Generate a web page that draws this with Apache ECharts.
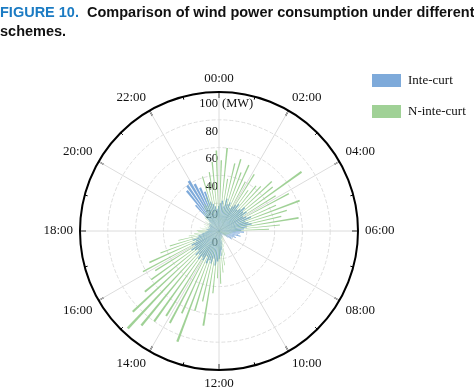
<!DOCTYPE html>
<html>
<head>
<meta charset="utf-8">
<script src="https://cdn.jsdelivr.net/npm/echarts@6/dist/echarts.min.js"></script>
<style>
html,body{margin:0;padding:0;background:#fff;}
#chart{width:474px;height:387px;}
</style>
</head>
<body>
<div id="chart"></div>
<script>
// 96 quarter-hour bins over one day
var timeBins = [];
for (var h = 0; h < 24; h++) {
  for (var q = 0; q < 4; q++) {
    timeBins.push((h < 10 ? '0' : '') + h + ':' + (q === 0 ? '00' : String(q * 15)));
  }
}
var hourTickLabels = ['00:00','02:00','04:00','06:00','08:00','10:00','12:00','14:00','16:00','18:00','20:00','22:00'];
var radiusTickLabels = ['0','20','40','60','80','100'];
var radiusUnit = '(MW)';
var seriesNames = ['Inte-curt', 'N-inte-curt'];

// Inte-curt (blue)
var inteCurt = [
  20,22,18,24, 20,22,18,20, 22,24,20,22, 25,22,24,20,
  22,25,20,22, 24,20,18,16, 18,15,14,16, 12,13,11,10,
  11,8,5,4, 3,4,3,5, 4,5,6,5, 10,14,18,20,
  22,25,20,24, 22,25,20,24, 22,25,22,24, 20,22,24,20,
  22,18,20,16, 15,12,10,9, 8,9,8,7, 8,7,8,7,
  8,9,8,10, 25,37,40,42, 38,34,30,22, 20,18,16,18
];
// N-inte-curt (green)
var nInteCurt = [
  51,60,38,50, 54,45,52,40, 48,36,42,44, 52,50,73,48,
  57,45,62,51, 46,58,44,36, 12,10,9,8, 8,7,6,6,
  5,7,4,6, 5,3,6,4, 7,10,8,12, 18,25,30,38,
  34,45,69,52, 60,85,65,75, 72,80,88,96, 85,69,60,54,
  62,55,45,37, 30,22,18,15, 16,12,14,10, 11,9,12,8,
  10,12,9,14, 15,18,16,20, 22,20,26,41, 35,43,50,58
];

var serif = 'Liberation Serif';
var chart = echarts.init(document.getElementById('chart'), null, {renderer: 'canvas'});
chart.setOption({
  animation: false,
  title: {
    left: 0, top: 3, padding: 0,
    text: '{b|FIGURE 10.}  Comparison of wind power consumption under different\nschemes.',
    textStyle: {
      fontFamily: 'Liberation Sans', fontWeight: 'bold', fontSize: 14.5, color: '#111', lineHeight: 19,
      rich: {b: {fontFamily: 'Liberation Sans', fontWeight: 'bold', fontSize: 14.5, color: '#1b7bc3', lineHeight: 19}}
    }
  },
  legend: {
    orient: 'vertical', left: 367, top: 69,
    itemWidth: 29, itemHeight: 13, itemGap: 18,
    icon: 'rect',
    data: seriesNames,
    textStyle: {fontFamily: serif, fontSize: 13, color: '#111', padding: [0,0,0,2]}
  },
  polar: [
    {center: [219, 231], radius: 139},
    {center: [219, 231], radius: 139}
  ],
  angleAxis: [
    {polarIndex: 0, type: 'category', data: timeBins, startAngle: 90, clockwise: true, show: false, boundaryGap: true},
    {polarIndex: 1, type: 'value', min: 0, max: 24, interval: 2, startAngle: 90, clockwise: true,
     axisLine: {lineStyle: {color: '#000', width: 2}},
     axisTick: {inside: true, length: 6, lineStyle: {color: '#000', width: 1.3}},
     minorTick: {show: true, splitNumber: 2, length: 3, lineStyle: {color: '#000', width: 1}},
     splitLine: {show: true, lineStyle: {color: '#dcdcdc', width: 1}},
     axisLabel: {fontFamily: serif, fontSize: 13, color: '#111', margin: 7,
       formatter: function (v) { return v >= 24 ? '' : hourTickLabels[Math.round(v / 2)]; }}
    }
  ],
  radiusAxis: [
    {polarIndex: 0, min: 0, max: 100, show: false},
    {polarIndex: 1, min: 0, max: 100, interval: 20,
     axisLine: {show: false}, axisTick: {show: false},
     name: radiusUnit, nameLocation: 'end', nameGap: -5,
     nameTextStyle: {fontFamily: serif, fontSize: 12.5, color: '#111', align: 'left', verticalAlign: 'top', padding: [0,0,0,3]},
     splitLine: {show: true, lineStyle: {color: '#dedede', type: 'dashed', width: 1}},
     axisLabel: {fontFamily: serif, fontSize: 12.5, color: '#111', margin: 1, verticalAlign: 'top', padding: [5,0,0,0],
       formatter: function (v) { return radiusTickLabels[Math.round(v / 20)]; }
     }
    }
  ],
  series: [
    {name: seriesNames[0], type: 'bar', coordinateSystem: 'polar', polarIndex: 0,
     data: inteCurt, barWidth: '70%', barGap: '-100%',
     itemStyle: {color: '#77a5d8', opacity: 0.95}},
    {name: seriesNames[1], type: 'bar', coordinateSystem: 'polar', polarIndex: 0,
     data: nInteCurt, barWidth: '70%', barGap: '-100%',
     itemStyle: {color: '#96cc8b', opacity: 0.9}}
  ]
});
</script>
</body>
</html>
